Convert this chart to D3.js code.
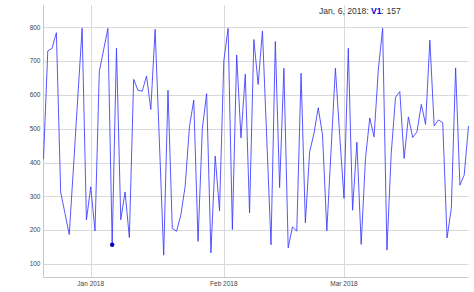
<!DOCTYPE html>
<html>
<head>
<meta charset="utf-8">
<script src="https://cdn.jsdelivr.net/npm/d3@7"></script>
<style>
  body { margin: 0; background: #fff; font-family: Arial, "Liberation Sans", sans-serif; }
  svg { display: block; }
</style>
</head>
<body>
<svg id="chart" width="474" height="292"></svg>
<script>
// daily values, Dec 21 2017 .. Mar 30 2018
const startDay = "2017-12-21";
const values = [
  410, 730, 738, 784, 313, 250, 187, 390, 595, 797,
  230, 328, 198, 669, 733, 797, 157, 738, 231, 313,
  178, 646, 614, 611, 656, 557, 794, 460, 126, 614,
  205, 197, 245, 330, 506, 585, 167, 500, 604, 133,
  419, 257, 700, 797, 202, 718, 473, 661, 251, 764,
  631, 789, 473, 157, 758, 326, 679, 148, 210, 197,
  664, 222, 432, 486, 562, 481, 198, 440, 679, 480,
  294, 738, 259, 460, 158, 412, 532, 476, 676, 797,
  141, 427, 593, 610, 412, 535, 474, 491, 572, 513,
  762, 508, 526, 518, 177, 264, 680, 333, 363, 508
];
const yTicks = [100, 200, 300, 400, 500, 600, 700, 800];
const xTickDates = ["2018-01-01", "2018-02-01", "2018-03-01"];
const xTickLabels = ["Jan 2018", "Feb 2018", "Mar 2018"];
const highlightIndex = 16;
const legendDate = "Jan, 6, 2018";
const seriesName = "V1";

const parse = d3.utcParse("%Y-%m-%d");
const t0 = parse(startDay);
const dates = d3.utcDay.range(t0, d3.utcDay.offset(t0, values.length));
const data = values.map((v, i) => ({ date: dates[i], value: v }));

const svg = d3.select("#chart");
const plotL = 43.5, plotR = 468.5, plotT = 5, plotB = 277.5;

const x = d3.scaleUtc()
    .domain([dates[0], dates[dates.length - 1]])
    .range([plotL, plotR]);
const y = d3.scaleLinear()
    .domain([60, 866])
    .range([plotB, plotT]);

// grid
svg.append("g")
    .selectAll("line")
    .data(yTicks)
    .join("line")
    .attr("x1", plotL).attr("x2", plotR)
    .attr("y1", d => Math.round(y(d)) + 0.5).attr("y2", d => Math.round(y(d)) + 0.5)
    .attr("stroke", "#d9d9d9");

svg.append("g")
    .selectAll("line")
    .data(xTickDates.map(parse))
    .join("line")
    .attr("x1", d => Math.round(x(d)) + 0.5).attr("x2", d => Math.round(x(d)) + 0.5)
    .attr("y1", plotT).attr("y2", plotB)
    .attr("stroke", "#d9d9d9");

// axes lines
svg.append("line")
    .attr("x1", plotL).attr("x2", plotL).attr("y1", plotT).attr("y2", plotB)
    .attr("stroke", "#c8c8c8");
svg.append("line")
    .attr("x1", plotL).attr("x2", plotR).attr("y1", plotB).attr("y2", plotB)
    .attr("stroke", "#c8c8c8");

// tick labels
svg.append("g")
    .selectAll("text")
    .data(yTicks)
    .join("text")
    .attr("x", 40.5)
    .attr("y", d => y(d))
    .attr("dy", "0.35em")
    .attr("text-anchor", "end")
    .attr("font-size", 6.5)
    .attr("fill", "#444")
    .text(d => d);

svg.append("g")
    .selectAll("text")
    .data(xTickDates)
    .join("text")
    .attr("x", d => x(parse(d)))
    .attr("y", 286)
    .attr("text-anchor", "middle")
    .attr("font-size", 6.5)
    .attr("fill", "#444")
    .text((d, i) => xTickLabels[i]);

// series
const line = d3.line()
    .x(d => x(d.date))
    .y(d => y(d.value));

svg.append("path")
    .datum(data)
    .attr("d", line)
    .attr("fill", "none")
    .attr("stroke", "#3a3aff")
    .attr("stroke-opacity", 0.85)
    .attr("stroke-width", 1);

// highlighted point
const hp = data[highlightIndex];
svg.append("circle")
    .attr("cx", x(hp.date))
    .attr("cy", y(hp.value))
    .attr("r", 2.2)
    .attr("fill", "#0000cc");

// legend
const legend = svg.append("text")
    .attr("x", 319)
    .attr("y", 14)
    .attr("font-size", 8.6)
    .attr("fill", "#333");
legend.append("tspan").text(legendDate + ": ");
legend.append("tspan").attr("fill", "#0000dd").attr("font-weight", "bold").text(seriesName);
legend.append("tspan").text(": " + hp.value);
</script>
</body>
</html>
